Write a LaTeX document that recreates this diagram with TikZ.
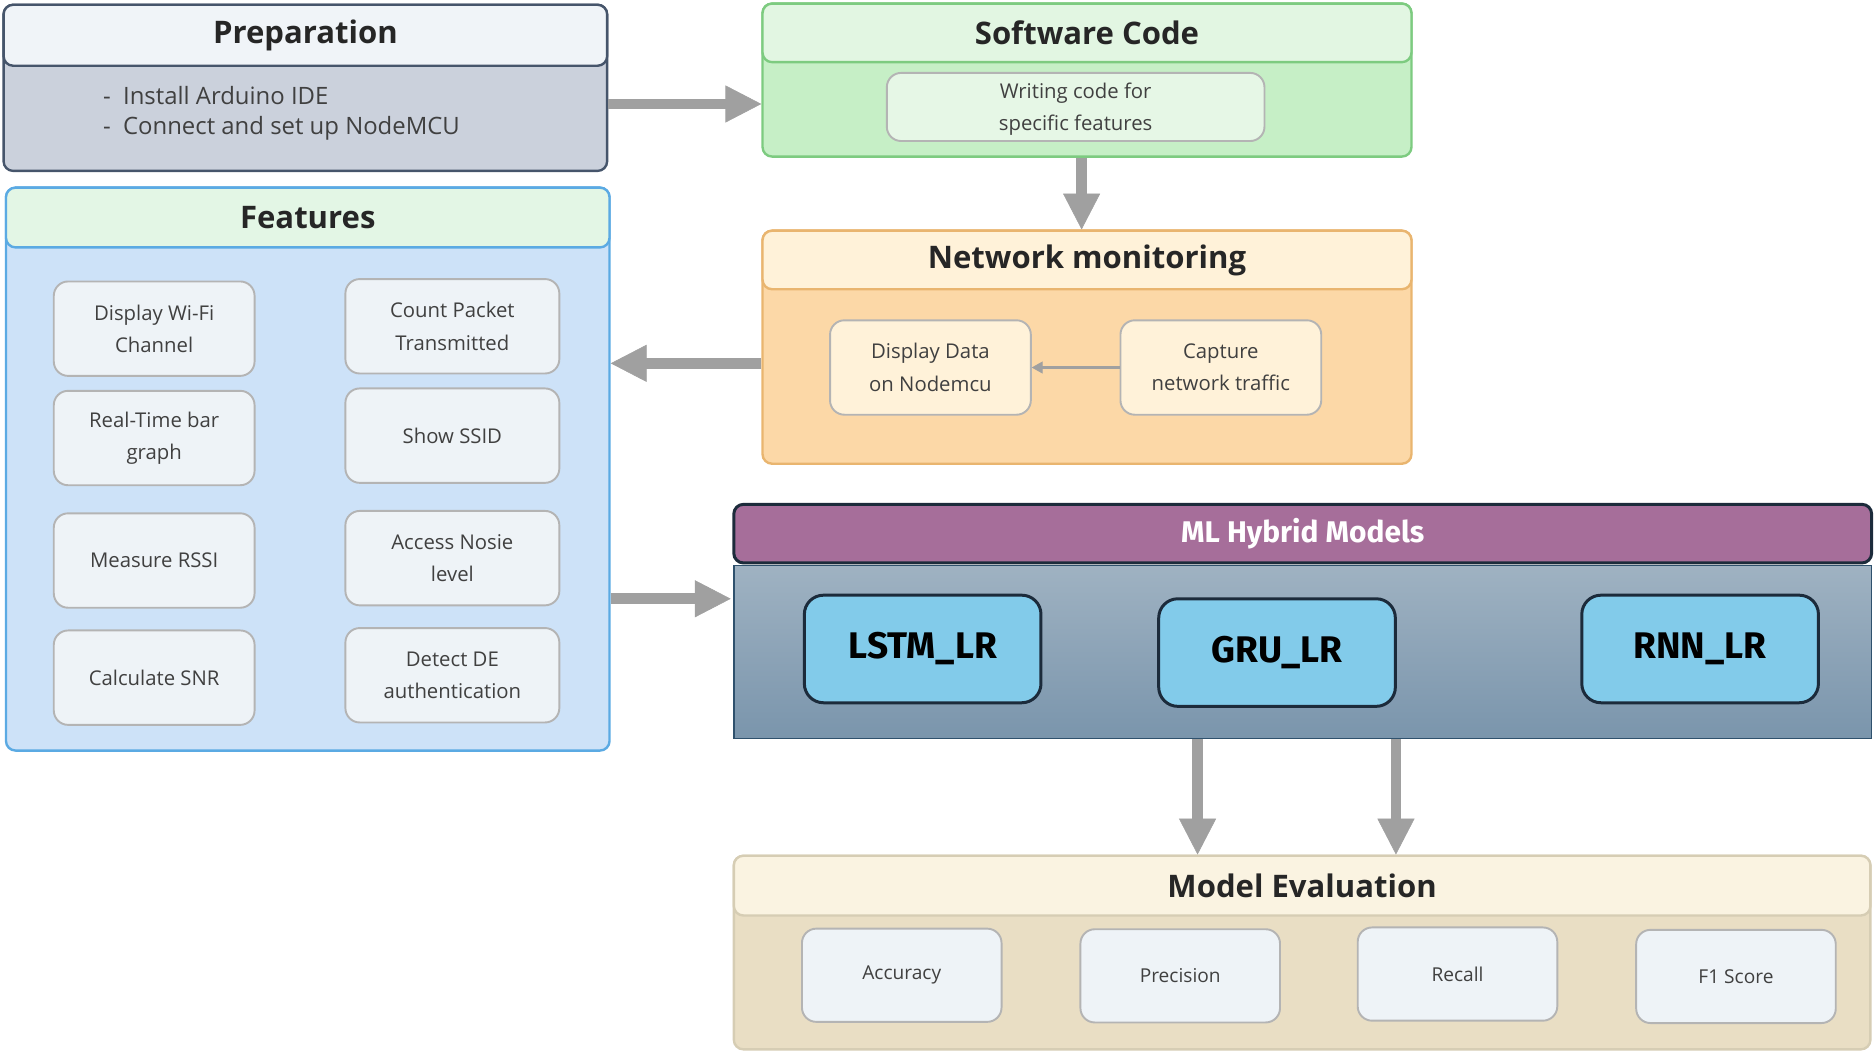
\documentclass[tikz,border=0pt]{standalone}
\usepackage{fontspec}
\setmainfont{Open Sans}
\newfontfamily\mlfont{Fira Sans}
\usetikzlibrary{arrows.meta}

\definecolor{titletext}{HTML}{262626}
\definecolor{bodytext}{HTML}{404040}
\definecolor{arrowgray}{HTML}{A0A0A0}
\definecolor{itemline}{HTML}{B4B4B4}
\definecolor{itemfill}{HTML}{EEF3F7}
\definecolor{prepline}{HTML}{46556B}
\definecolor{prephead}{HTML}{F0F4F8}
\definecolor{prepbody}{HTML}{CBD1DC}
\definecolor{swline}{HTML}{7DCB80}
\definecolor{swhead}{HTML}{E2F6E2}
\definecolor{swbody}{HTML}{C6EFC6}
\definecolor{switem}{HTML}{E6F7E6}
\definecolor{netline}{HTML}{E9B56F}
\definecolor{nethead}{HTML}{FFF2D9}
\definecolor{netbody}{HTML}{FCD8A7}
\definecolor{featline}{HTML}{5BAAE3}
\definecolor{feathead}{HTML}{E3F6E5}
\definecolor{featbody}{HTML}{CDE2F8}
\definecolor{mlline}{HTML}{1C2B3B}
\definecolor{mlhead}{HTML}{A66E9A}
\definecolor{mltop}{HTML}{9FB2C2}
\definecolor{mlbottom}{HTML}{7A95AC}
\definecolor{mlitem}{HTML}{82CBEA}
\definecolor{evalline}{HTML}{D6CDB4}
\definecolor{evalhead}{HTML}{FAF3E1}
\definecolor{evalbody}{HTML}{E9DEC4}

\tikzset{
    frame/.style={draw, line width=2pt, rounded corners=8pt, inner sep=0pt},
    framehead/.style={frame, text=titletext, font=\fontsize{26}{30}\selectfont\bfseries},
    item/.style={draw=itemline, fill=itemfill, line width=1.6pt, rounded corners=12pt, inner sep=0pt,
        minimum width=168pt, minimum height=79pt, align=center, text=bodytext, font=\fontsize{17}{27}\selectfont},
    mlbox/.style={draw=mlline, fill=mlitem, line width=2.5pt, rounded corners=16pt, inner sep=0pt,
        minimum width=198pt, minimum height=90pt, font=\mlfont\fontsize{31}{36}\selectfont\bfseries},
    bigarrow/.style={draw=arrowgray, line width=9pt, -{Triangle[length=30pt, width=31pt, line width=0.5pt]}},
    thinarrow/.style={draw=arrowgray, line width=2.5pt, -{Triangle[length=9pt, width=10pt, line width=0.5pt]}}
}

\begin{document}
\begin{tikzpicture}[x=1pt,y=-1pt]
    \useasboundingbox (0,0) rectangle (1568,880);

    %Shape: Preparation
    \node [frame, draw=prepline, fill=prepbody, minimum width=505pt, minimum height=139pt] (prep) at (255.5,73.5) {};
    \node [framehead, draw=prepline, fill=prephead, minimum width=505pt, minimum height=51pt] (prephd) at (255.5,29.5) {Preparation};
    % Text Node
    \node [anchor=west, inner sep=0pt, align=left, text=bodytext, font=\fontsize{20}{25}\selectfont] (prepnote) at (86,95) {-\ \ Install Arduino IDE\\-\ \ Connect and set up NodeMCU};

    %Shape: Software Code
    \node [frame, draw=swline, fill=swbody, minimum width=543pt, minimum height=128pt] (sw) at (909.5,67) {};
    \node [framehead, draw=swline, fill=swhead, minimum width=543pt, minimum height=49pt] (swhd) at (909.5,27.5) {Software Code};
    \node [item, fill=switem, minimum width=316pt, minimum height=57pt, text depth=0pt] (swcode) at (900,89.5) {Writing code for\\specific features};

    %Shape: Network monitoring
    \node [frame, draw=netline, fill=netbody, minimum width=543pt, minimum height=195pt] (net) at (909.5,290.5) {};
    \node [framehead, draw=netline, fill=nethead, minimum width=543pt, minimum height=49pt] (nethd) at (909.5,217.5) {Network monitoring};
    \node [item, fill=nethead] (netshow) at (778.5,307.5) {Display Data\\on Nodemcu};
    \node [item, fill=nethead] (netcap) at (1021.5,307.5) {Capture\\network traffic};

    %Shape: Features
    \node [frame, draw=featline, fill=featbody, minimum width=505pt, minimum height=471pt] (feat) at (257.5,392.5) {};
    \node [framehead, draw=featline, fill=feathead, minimum width=505pt, minimum height=50pt] (feathd) at (257.5,182) {Features};
    \node [item] (wifi) at (129,275) {Display Wi-Fi\\Channel};
    \node [item, minimum width=179pt] (count) at (378.5,273) {Count Packet\\Transmitted};
    \node [item] (bar) at (129,366.5) {Real-Time bar\\graph};
    \node [item, minimum width=179pt] (ssid) at (378.5,364.5) {Show SSID};
    \node [item] (rssi) at (129,469) {Measure RSSI};
    \node [item, minimum width=179pt] (noise) at (378.5,467) {Access Nosie\\level};
    \node [item] (snr) at (129,567) {Calculate SNR};
    \node [item, minimum width=179pt] (deauth) at (378.5,565) {Detect DE\\authentication};

    %Shape: ML Hybrid Models
    \node [draw=mlline!70!featline, line width=1.2pt, top color=mltop, bottom color=mlbottom, inner sep=0pt, minimum width=952pt, minimum height=145pt] (ml) at (1090,545.5) {};
    \node [frame, draw=mlline, fill=mlhead, line width=2.5pt, minimum width=952pt, minimum height=49pt, text=white, font=\mlfont\fontsize{25}{30}\selectfont\bfseries] (mlhd) at (1090,446.5) {ML Hybrid Models};
    \node [mlbox] (lstm) at (772,543) {LSTM\_LR};
    \node [mlbox] (gru) at (1068.5,546) {GRU\_LR};
    \node [mlbox] (rnn) at (1422.5,543) {RNN\_LR};

    %Shape: Model Evaluation
    \node [frame, draw=evalline, fill=evalbody, minimum width=951pt, minimum height=162pt] (eval) at (1089.5,797) {};
    \node [framehead, draw=evalline, fill=evalhead, minimum width=951pt, minimum height=50pt] (evalhd) at (1089.5,741) {Model Evaluation};
    \node [item, minimum width=167pt, minimum height=78pt, font=\fontsize{16}{20}\selectfont] (acc) at (754.5,816) {Accuracy};
    \node [item, minimum width=167pt, minimum height=78pt, font=\fontsize{16}{20}\selectfont] (prec) at (987.5,816.5) {Precision};
    \node [item, minimum width=167pt, minimum height=78pt, font=\fontsize{16}{20}\selectfont] (rec) at (1219.5,815) {Recall};
    \node [item, minimum width=167pt, minimum height=78pt, font=\fontsize{16}{20}\selectfont] (fone) at (1452.5,817) {F1 Score};

    %Straight Lines
    \coordinate (p4) at ([yshift=44.5pt]ml.west);
    \draw [bigarrow] ([yshift=-13.5pt]prep.east) coordinate (p1) -- (p1 -| sw.west);
    \draw [bigarrow] ([xshift=-4.5pt]sw.south) coordinate (p2) -- (p2 |- nethd.north);
    \draw [bigarrow] ([yshift=-13.5pt]net.west) coordinate (p3) -- (p3 -| feat.east);
    \draw [bigarrow] (p4 -| feat.east) -- ([xshift=-2pt]p4);
    \draw [bigarrow] ([xshift=-88pt]ml.south) coordinate (p5) -- (p5 |- evalhd.north);
    \draw [bigarrow] ([xshift=78pt]ml.south) coordinate (p6) -- (p6 |- evalhd.north);
    \draw [thinarrow] (netcap) -- (netshow);

\end{tikzpicture}
\end{document}
